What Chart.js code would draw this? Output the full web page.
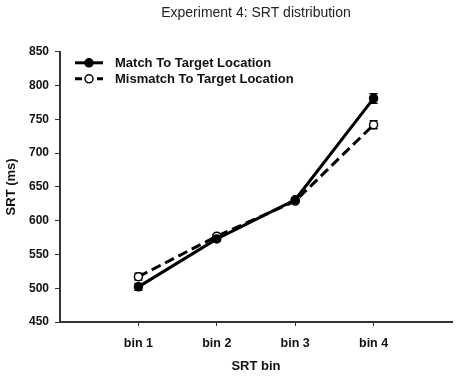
<!DOCTYPE html>
<html>
<head>
<meta charset="utf-8">
<script src="https://cdn.jsdelivr.net/npm/chart.js@4.4.1/dist/chart.umd.min.js"></script>
<style>
  html, body { margin: 0; padding: 0; background: #fff; }
  #wrap { width: 474px; height: 376px; }
</style>
</head>
<body>
<div id="wrap"><canvas id="srtChart"></canvas></div>
<script>
// bins on the x axis
var bins = ["bin 1", "bin 2", "bin 3", "bin 4"];
var binPos = [1, 2, 3, 4];

// mean SRT (ms) per bin
var matchSRT = [502, 573, 631, 781];
var mismatchSRT = [517, 577, 629, 742];

// error bar half-widths (ms)
var matchErr = [5, 3, 3, 7];
var mismatchErr = [5, 3, 3, 6];

var yTicks = [450, 500, 550, 600, 650, 700, 750, 800, 850];

var fontFam = "'Liberation Sans', Arial, sans-serif";

function toPoints(vals) {
  var pts = [];
  for (var i = 0; i < vals.length; i++) {
    pts.push({ x: binPos[i], y: vals[i] });
  }
  return pts;
}

// error bars drawn through the scales
var errorBars = {
  id: "errorBars",
  beforeDatasetsDraw: function(chart) {
    var ctx = chart.ctx;
    var xs = chart.scales.x, ys = chart.scales.y;
    var sets = [[matchSRT, matchErr], [mismatchSRT, mismatchErr]];
    ctx.save();
    ctx.strokeStyle = "#000";
    ctx.lineWidth = 1.5;
    for (var s = 0; s < sets.length; s++) {
      var vals = sets[s][0], errs = sets[s][1];
      for (var i = 0; i < vals.length; i++) {
        var px = xs.getPixelForValue(binPos[i]);
        var top = ys.getPixelForValue(vals[i] + errs[i]);
        var bot = ys.getPixelForValue(vals[i] - errs[i]);
        ctx.beginPath();
        ctx.moveTo(px, top); ctx.lineTo(px, bot);
        ctx.moveTo(px - 4, top); ctx.lineTo(px + 4, top);
        ctx.moveTo(px - 4, bot); ctx.lineTo(px + 4, bot);
        ctx.stroke();
      }
    }
    ctx.restore();
  }
};

// legend inside the plot, top-left
var innerLegend = {
  id: "innerLegend",
  afterDraw: function(chart) {
    var ctx = chart.ctx;
    var area = chart.chartArea;
    var x0 = area.left + 15;
    var y0 = area.top + 11;
    ctx.save();
    chart.data.datasets.forEach(function(ds, i) {
      var y = y0 + i * 16;
      ctx.beginPath();
      ctx.strokeStyle = "#000";
      ctx.lineWidth = 3;
      ctx.setLineDash(ds.borderDash ? [7, 4] : []);
      ctx.moveTo(x0, y); ctx.lineTo(x0 + 28, y);
      ctx.stroke();
      ctx.setLineDash([]);
      ctx.beginPath();
      ctx.arc(x0 + 14, y, 4, 0, Math.PI * 2);
      ctx.fillStyle = ds.pointBackgroundColor;
      ctx.fill();
      ctx.lineWidth = 1.5;
      ctx.stroke();
      ctx.fillStyle = "#111";
      ctx.font = "bold 13px " + fontFam;
      ctx.textBaseline = "middle";
      ctx.fillText(ds.label, x0 + 40, y + 1);
    });
    ctx.restore();
  }
};

var ctx = document.getElementById("srtChart");
var srtChart = new Chart(ctx, {
  type: "line",
  data: {
    datasets: [
      {
        label: "Match To Target Location",
        data: toPoints(matchSRT),
        borderColor: "#000",
        borderWidth: 3,
        pointBackgroundColor: "#000",
        pointBorderColor: "#000",
        pointBorderWidth: 1.5,
        pointRadius: 4,
        tension: 0
      },
      {
        label: "Mismatch To Target Location",
        data: toPoints(mismatchSRT),
        borderColor: "#000",
        borderWidth: 3,
        borderDash: [10, 5],
        pointBackgroundColor: "#fff",
        pointBorderColor: "#000",
        pointBorderWidth: 1.5,
        pointRadius: 4,
        tension: 0
      }
    ]
  },
  options: {
    responsive: true,
    maintainAspectRatio: false,
    animation: false,
    layout: { padding: { top: 0, right: 22, bottom: 0, left: 0 } },
    plugins: {
      legend: { display: false },
      tooltip: { enabled: false },
      title: {
        display: true,
        text: "Experiment 4: SRT distribution",
        fullSize: false,
        color: "#222",
        font: { family: fontFam, size: 14, weight: "normal" },
        padding: { top: 5, bottom: 30 }
      }
    },
    scales: {
      x: {
        type: "linear",
        min: 0,
        max: 5,
        afterBuildTicks: function(s) {
          s.ticks = binPos.map(function(v) { return { value: v }; });
        },
        afterFit: function(s) { s.height = 54; },
        ticks: {
          color: "#111",
          padding: 10,
          font: { family: fontFam, size: 12.5, weight: "bold" },
          callback: function(v) { return bins[binPos.indexOf(v)] || ""; },
          maxRotation: 0
        },
        grid: { drawOnChartArea: false, drawTicks: true, tickLength: 4, color: "#333", lineWidth: 1 },
        border: { color: "#333", width: 2 },
        title: {
          display: true,
          text: "SRT bin",
          color: "#111",
          font: { family: fontFam, size: 13, weight: "bold" },
          padding: { top: 4, bottom: 2 }
        }
      },
      y: {
        min: 450,
        max: 850,
        afterBuildTicks: function(s) {
          s.ticks = yTicks.map(function(v) { return { value: v }; });
        },
        afterFit: function(s) { s.width = 60; },
        ticks: {
          color: "#111",
          padding: 6,
          font: { family: fontFam, size: 12, weight: "bold" }
        },
        grid: { drawOnChartArea: false, drawTicks: true, tickLength: 5, color: "#333", lineWidth: 1 },
        border: { color: "#333", width: 2 },
        title: {
          display: true,
          text: "SRT (ms)",
          color: "#111",
          font: { family: fontFam, size: 13, weight: "bold" },
          padding: { top: 4, bottom: 0 }
        }
      }
    }
  },
  plugins: [errorBars, innerLegend]
});
</script>
</body>
</html>
